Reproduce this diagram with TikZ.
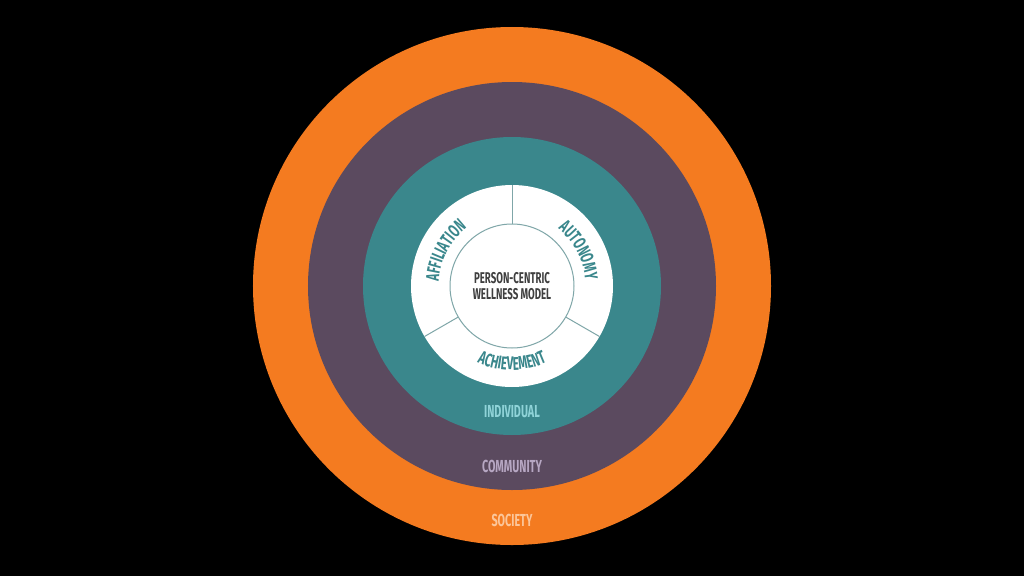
\documentclass[tikz,border=0pt]{standalone}
\usepackage{fontspec}
\setmainfont{Fira Sans}[FakeStretch=0.62]
\usepackage{tikz}
\usetikzlibrary{shapes,decorations.text}
\definecolor{societyorange}{HTML}{F47B20}
\definecolor{communitypurple}{HTML}{5B4A5F}
\definecolor{individualteal}{HTML}{3A878C}
\definecolor{individualtext}{HTML}{8FD3D8}
\definecolor{communitytext}{HTML}{B7A7C3}
\definecolor{societytext}{HTML}{FCC69A}
\definecolor{coretext}{HTML}{3F3F3F}
\definecolor{spoke}{HTML}{7FA6A8}

\begin{document}
\begin{tikzpicture}[x=1pt,y=1pt,font=\bfseries]
\tikzstyle{ring}=[circle,inner sep=0pt,outer sep=0pt]
\tikzstyle{ringlabel}=[font=\bfseries\fontsize{17.4}{17.4}\selectfont]
\fill[black] (-512,-290) rectangle (512,286);
\useasboundingbox (-512,-290) rectangle (512,286);
% rings from outside in
\node[ring,fill=societyorange,minimum size=518pt] (society) at (0,0) {};
\node[ring,fill=communitypurple,minimum size=408pt] (community) at (0,0) {};
\node[ring,fill=individualteal,minimum size=298pt] (individual) at (0,0) {};
\node[ring,fill=white,minimum size=202pt] (wheel) at (0,0) {};
\node[ring,draw=spoke,line width=1pt,minimum size=124pt,align=center,
      text=coretext,font=\bfseries\fontsize{15.6}{16.5}\selectfont] (core) at (0,0)
      {PERSON-CENTRIC\\WELLNESS MODEL};
% spokes
\foreach \a in {90,210,330}
  \draw[spoke,line width=1pt] (core.\a) -- (wheel.\a);
% sector labels
\path[decorate,decoration={text along path,text align=center,text color=individualteal,
      text={|\bfseries\fontsize{18.5}{18.5}\selectfont|AFFILIATION}}]
      (212:73.5) arc[start angle=212,end angle=92,radius=73.5];
\path[decorate,decoration={text along path,text align=center,text color=individualteal,
      text={|\bfseries\fontsize{18.5}{18.5}\selectfont|AUTONOMY}}]
      (88:73.5) arc[start angle=88,end angle=-32,radius=73.5];
\path[decorate,decoration={text along path,text align=center,text color=individualteal,
      text={|\bfseries\fontsize{18.5}{18.5}\selectfont|ACHIEVEMENT}}]
      (210:84) arc[start angle=210,end angle=330,radius=84];
% ring labels
\node[ringlabel,text=individualtext] (individuallabel) at (0,-126) {INDIVIDUAL};
\node[ringlabel,text=communitytext] (communitylabel) at (0,-180) {COMMUNITY};
\node[ringlabel,text=societytext] (societylabel) at (0,-234) {SOCIETY};
\end{tikzpicture}
\end{document}
